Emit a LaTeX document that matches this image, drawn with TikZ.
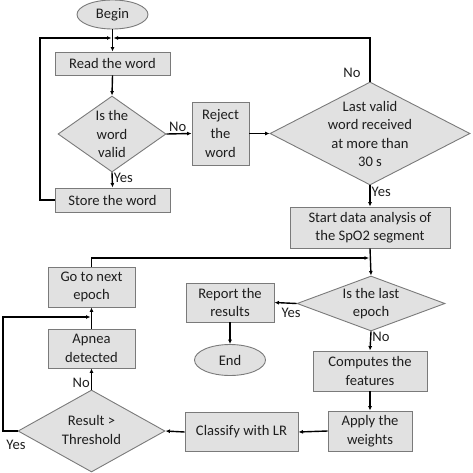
\documentclass[tikz,border=0pt]{standalone}
\usepackage{fontspec}
\setmainfont{Carlito}
\usetikzlibrary{shapes.geometric,arrows.meta}
\definecolor{boxfill}{HTML}{E1E1E1}
\definecolor{boxline}{HTML}{7A7A7A}
\definecolor{txt}{HTML}{1E1E1E}
\begin{document}
\begin{tikzpicture}[x=1pt,y=-1pt,
  every node/.style={text=txt},
  txtf/.style={font=\fontsize{14.6}{18.6}\selectfont},
  box/.style={draw=boxline, fill=boxfill, line width=0.9pt, align=center, inner sep=0pt, txtf},
  dia/.style={diamond, draw=boxline, fill=boxfill, line width=0.9pt, inner sep=0pt},
  ell/.style={ellipse, draw=boxline, fill=boxfill, line width=0.9pt, inner sep=0pt, txtf},
  lbl/.style={txtf, inner sep=1pt},
  arr/.style={-{Latex[length=4.5pt,width=4pt]}, line width=1.4pt, black},
  ln/.style={line width=1.4pt, black}]
\useasboundingbox (0,0) rectangle (473,473);
% nodes
\node[ell, minimum width=71pt, minimum height=29pt] (begin) at (112.5,14.5) {Begin};
\node[box, minimum width=115pt, minimum height=23pt] (read) at (112.5,63.5) {Read the word};
\node[dia, minimum width=108pt, minimum height=76pt] (valid) at (112,134) {};
\node[txtf, align=center] (validt) at (112,134) {Is the\\word\\valid};
\node[box, minimum width=115pt, minimum height=24pt] (store) at (112.5,200) {Store the word};
\node[box, minimum width=57pt, minimum height=63pt] (reject) at (220.5,133.5) {Reject\\the\\word};
\node[dia, minimum width=200pt, minimum height=103pt] (last) at (370,133.5) {};
\node[txtf, align=center] (lastt) at (370,134) {Last valid\\word received\\at more than\\30 s};
\node[box, minimum width=160pt, minimum height=41pt] (start) at (370,227.5) {Start data analysis of\\the SpO2 segment};
\node[dia, minimum width=148pt, minimum height=55pt] (lastep) at (371,303.5) {};
\node[txtf, align=center] (lastept) at (371,303.5) {Is the last\\epoch};
\node[box, minimum width=88pt, minimum height=39pt] (report) at (230,302.5) {Report the\\results};
\node[ell, minimum width=71pt, minimum height=31pt] (end) at (230,360) {End};
\node[box, minimum width=87pt, minimum height=40pt] (next) at (91.5,287) {Go to next\\epoch};
\node[box, minimum width=87pt, minimum height=39pt] (apnea) at (91.5,348.5) {Apnea\\detected};
\node[dia, minimum width=147pt, minimum height=82pt] (result) at (91.5,431) {};
\node[txtf, align=center] (resultt) at (91.5,430) {Result >\\Threshold};
\node[box, minimum width=114pt, minimum height=40pt] (comp) at (370,371) {Computes the\\features};
\node[box, minimum width=84pt, minimum height=40pt] (apply) at (370,431) {Apply the\\weights};
\node[box, minimum width=113pt, minimum height=39pt] (classify) at (241.5,432) {Classify with LR};
% junction coordinates
\coordinate (jl) at (40,38);
\coordinate (jm) at (112.5,38);
\coordinate (jr) at (370,38);
\coordinate (jn) at (370,258);
\coordinate (yl) at (3,431);
\coordinate (yt) at (3,317);
\coordinate (ya) at (91.5,317);
% connectors
\draw[arr] (begin.south) -- (read.north);
\draw[arr] (store.west) -| (jl) -- ([xshift=-1pt]jm);
\draw[arr] (last.north) -- (jr) -- ([xshift=1pt]jm);
\draw[arr] (read.south) -- (valid.north);
\draw[arr] (valid.south) -- node[lbl, right, pos=0.35] {Yes} (store.north);
\draw[arr] (valid.east) -- node[lbl, above, pos=0.45] {No} (reject.west);
\draw[arr] (reject.east) -- (last.west);
\node[lbl] (nolbl) at (352,73) {No};
\draw[arr] (last.south) -- node[lbl, right, pos=0.3] {Yes} (start.north);
\draw[arr] (start.south) -- (lastep.north);
\draw[arr] (next.north) |- ([xshift=-1pt]jn);
\draw[arr] (lastep.west) -- node[lbl, below, pos=0.25, yshift=-3pt] {Yes} (report.east);
\draw[arr] (report.south) -- (end.north);
\draw[arr] (lastep.south) -- node[lbl, right, pos=0.3] {No} (comp.north);
\draw[arr] (comp.south) -- (apply.north);
\draw[arr] (apply.west) -- (classify.east);
\draw[arr] (classify.west) -- (result.east);
\draw[arr] (result.north) -- node[lbl, left, pos=0.3] {No} (apnea.south);
\draw[arr] (apnea.north) -- (next.south);
\draw[arr] (result.west) -- (yl) -- (yt) -- ([xshift=-1pt]ya);
\node[lbl] (yeslbl) at (16,445) {Yes};
\end{tikzpicture}
\end{document}
